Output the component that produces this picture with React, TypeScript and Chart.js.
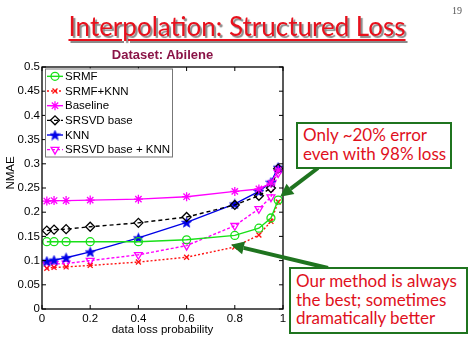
import React, { useEffect, useRef } from 'react';
import { Chart, registerables } from 'chart.js';
import { drawPoint } from 'chart.js/helpers';

Chart.register(...registerables);

const slideTitle = 'Interpolation: Structured Loss';
const pageNumber = '19';
const chartTitle = 'Dataset: Abilene';
const xTitle = 'data loss probability';
const yTitle = 'NMAE';
const note1 = ['Only ~20% error', 'even with 98% loss'];
const note2 = ['Our method is always', 'the best; sometimes', 'dramatically better'];

const lossProb = [0.02, 0.05, 0.1, 0.2, 0.4, 0.6, 0.8, 0.9, 0.95, 0.98];
const xTicks = [0, 0.2, 0.4, 0.6, 0.8, 1];
const yTicks = [0, 0.05, 0.1, 0.15, 0.2, 0.25, 0.3, 0.35, 0.4, 0.45, 0.5];

const srmf = [0.139, 0.139, 0.139, 0.139, 0.139, 0.143, 0.152, 0.167, 0.188, 0.225];
const srmfKnn = [0.084, 0.086, 0.087, 0.09, 0.097, 0.107, 0.128, 0.153, 0.181, 0.221];
const baseline = [0.223, 0.224, 0.224, 0.225, 0.227, 0.232, 0.243, 0.248, 0.26, 0.287];
const srsvdBase = [0.162, 0.164, 0.165, 0.17, 0.178, 0.19, 0.215, 0.234, 0.25, 0.29];
const knn = [0.099, 0.101, 0.106, 0.118, 0.147, 0.179, 0.217, 0.243, 0.262, 0.293];
const srsvdKnn = [0.092, 0.093, 0.094, 0.1, 0.112, 0.131, 0.172, 0.207, 0.231, 0.281];

const seriesNames = ['SRMF', 'SRMF+KNN', 'Baseline', 'SRSVD base', 'KNN', 'SRSVD base + KNN'];

// where the annotation arrows point, in data units
const arrow1Tip = { x: 0.988, y: 0.232 };
const arrow2Tip = { x: 0.784, y: 0.1325 };

function makePentagram(color: string) {
  const c = document.createElement('canvas');
  c.width = 11;
  c.height = 11;
  const g = c.getContext('2d')!;
  g.beginPath();
  for (let i = 0; i < 10; i++) {
    const r = i % 2 === 0 ? 5.2 : 2.2;
    const a = -Math.PI / 2 + (i * Math.PI) / 5;
    const px = 5.5 + r * Math.cos(a);
    const py = 6 + r * Math.sin(a);
    if (i === 0) g.moveTo(px, py);
    else g.lineTo(px, py);
  }
  g.closePath();
  g.fillStyle = color;
  g.fill();
  g.strokeStyle = color;
  g.lineWidth = 0.8;
  g.stroke();
  return c;
}

const FONT = '"Liberation Sans", Arial, sans-serif';

export default function App() {
  const ref = useRef<HTMLCanvasElement>(null);

  useEffect(() => {
    const canvas = ref.current!;
    const star5 = makePentagram('#0000e6');
    const toPts = (ys: number[]) => ys.map((y, i) => ({ x: lossProb[i], y }));

    const defs = [
      { label: seriesNames[0], data: srmf, color: '#18e018', dash: [], style: 'circle', r: 4, rot: 0 },
      { label: seriesNames[1], data: srmfKnn, color: '#ff1010', dash: [2, 2], style: 'crossRot', r: 3.5, rot: 0 },
      { label: seriesNames[2], data: baseline, color: '#ff00ff', dash: [], style: 'star', r: 4.5, rot: 0 },
      { label: seriesNames[3], data: srsvdBase, color: '#000000', dash: [4, 3], style: 'rectRot', r: 4.5, rot: 0 },
      { label: seriesNames[4], data: knn, color: '#0000e6', dash: [], style: star5 as any, r: 5, rot: 0 },
      { label: seriesNames[5], data: srsvdKnn, color: '#ff00ff', dash: [3, 2], style: 'triangle', r: 4.5, rot: 180 },
    ];

    const framePlugin = {
      id: 'frame',
      afterDraw(chart: any) {
        const { ctx, chartArea: a, scales } = chart;
        const xs = scales.x;
        const ys = scales.y;
        ctx.save();
        // axis box
        ctx.strokeStyle = '#000';
        ctx.lineWidth = 1.3;
        ctx.setLineDash([]);
        ctx.strokeRect(a.left, a.top, a.right - a.left, a.bottom - a.top);
        ctx.lineWidth = 1;
        ctx.beginPath();
        xTicks.forEach((v) => {
          const px = xs.getPixelForValue(v);
          ctx.moveTo(px, a.bottom);
          ctx.lineTo(px, a.bottom - 4);
          ctx.moveTo(px, a.top);
          ctx.lineTo(px, a.top + 4);
        });
        yTicks.forEach((v) => {
          const py = ys.getPixelForValue(v);
          ctx.moveTo(a.left, py);
          ctx.lineTo(a.left + 4, py);
          ctx.moveTo(a.right, py);
          ctx.lineTo(a.right - 4, py);
        });
        ctx.stroke();

        // axis titles
        ctx.fillStyle = '#000';
        ctx.font = '11.5px ' + FONT;
        ctx.textAlign = 'center';
        ctx.textBaseline = 'middle';
        ctx.fillText(xTitle, (a.left + a.right) / 2, a.bottom + 21);
        ctx.save();
        ctx.translate(11, a.top + 106);
        ctx.rotate(-Math.PI / 2);
        ctx.fillText(yTitle, 0, 0);
        ctx.restore();

        // legend
        const lx = a.left + 3;
        const ly = a.top + 1.5;
        const lw = 127;
        const lh = 88;
        ctx.fillStyle = '#fff';
        ctx.fillRect(lx, ly, lw, lh);
        ctx.strokeStyle = '#777';
        ctx.lineWidth = 1;
        ctx.strokeRect(lx + 0.5, ly + 0.5, lw, lh);
        const rowH = lh / defs.length;
        defs.forEach((d, i) => {
          const cy = ly + rowH / 2 + i * rowH + 0.5;
          ctx.strokeStyle = d.color;
          ctx.lineWidth = 1.4;
          ctx.setLineDash(d.dash);
          ctx.beginPath();
          ctx.moveTo(lx + 2, cy);
          ctx.lineTo(lx + 18, cy);
          ctx.stroke();
          ctx.setLineDash([]);
          ctx.fillStyle = 'rgba(0,0,0,0)';
          ctx.strokeStyle = d.color;
          ctx.lineWidth = 1.3;
          drawPoint(ctx, { pointStyle: d.style, radius: d.r, rotation: d.rot, borderWidth: 1.3 } as any, lx + 10, cy);
          ctx.fillStyle = '#000';
          ctx.font = '11.5px ' + FONT;
          ctx.textAlign = 'left';
          ctx.textBaseline = 'middle';
          ctx.fillText(d.label, lx + 20, cy + 0.5);
        });

        // arrows
        const arrow = (x1: number, y1: number, x2: number, y2: number) => {
          const ang = Math.atan2(y2 - y1, x2 - x1);
          const hl = 13;
          const hw = 6.5;
          const bx = x2 - hl * Math.cos(ang);
          const by = y2 - hl * Math.sin(ang);
          ctx.strokeStyle = '#1f741f';
          ctx.fillStyle = '#1f741f';
          ctx.lineWidth = 4;
          ctx.setLineDash([]);
          ctx.beginPath();
          ctx.moveTo(x1, y1);
          ctx.lineTo(bx, by);
          ctx.stroke();
          ctx.beginPath();
          ctx.moveTo(x2, y2);
          ctx.lineTo(bx + hw * Math.sin(ang), by - hw * Math.cos(ang));
          ctx.lineTo(bx - hw * Math.sin(ang), by + hw * Math.cos(ang));
          ctx.closePath();
          ctx.fill();
        };
        arrow(318, 168, xs.getPixelForValue(arrow1Tip.x), ys.getPixelForValue(arrow1Tip.y));
        arrow(328, 268, xs.getPixelForValue(arrow2Tip.x), ys.getPixelForValue(arrow2Tip.y));
        ctx.restore();
      },
    };

    const chart = new Chart(canvas, {
      type: 'line',
      data: {
        datasets: defs.map((d) => ({
          label: d.label,
          data: toPts(d.data),
          borderColor: d.color,
          backgroundColor: d.color,
          borderWidth: 1.4,
          borderDash: d.dash,
          pointStyle: d.style,
          pointRadius: d.r,
          pointRotation: d.rot,
          pointBorderColor: d.color,
          pointBackgroundColor: d.style === star5 ? d.color : 'rgba(0,0,0,0)',
          pointBorderWidth: 1.3,
          tension: 0,
          fill: false,
        })),
      },
      options: {
        animation: false,
        responsive: false,
        maintainAspectRatio: false,
        layout: { padding: { top: 67, right: 191, bottom: 0, left: 0 } },
        plugins: { legend: { display: false }, tooltip: { enabled: false }, title: { display: false } },
        scales: {
          x: {
            type: 'linear',
            min: 0,
            max: 1,
            afterFit: (axis: any) => {
              axis.height = 46;
            },
            afterBuildTicks: (axis: any) => {
              axis.ticks = xTicks.map((v) => ({ value: v }));
            },
            grid: { display: false, drawTicks: false },
            border: { display: false },
            ticks: {
              padding: 3,
              color: '#000',
              font: { family: FONT, size: 11.5 },
              maxRotation: 0,
              callback: (v: any) => String(Number(Number(v).toFixed(2))),
            },
          },
          y: {
            type: 'linear',
            min: 0,
            max: 0.5,
            afterFit: (axis: any) => {
              axis.width = 42;
            },
            afterBuildTicks: (axis: any) => {
              axis.ticks = yTicks.map((v) => ({ value: v }));
            },
            grid: { display: false, drawTicks: false },
            border: { display: false },
            ticks: {
              padding: 2,
              color: '#000',
              font: { family: FONT, size: 11.5 },
              callback: (v: any) => String(Number(Number(v).toFixed(2))),
            },
          },
        },
      },
      plugins: [framePlugin],
    } as any);
    return () => chart.destroy();
  }, []);

  const noteText: React.CSSProperties = {
    fontFamily: 'Lato, "Open Sans", sans-serif',
    fontSize: 17,
    color: '#e0101c',
    lineHeight: '18.5px',
    whiteSpace: 'nowrap',
  };

  return (
    <div style={{ position: 'absolute', left: 0, top: 0, width: 474, height: 355, background: '#fff', overflow: 'hidden' }}>
      <canvas ref={ref} width={474} height={355} style={{ position: 'absolute', left: 0, top: 0, width: 474, height: 355 }} />
      <div
        style={{
          position: 'absolute',
          left: 0,
          top: 10,
          width: 474,
          textAlign: 'center',
          fontFamily: 'Lato, sans-serif',
          fontSize: 26,
          lineHeight: '32px',
          color: '#e8101c',
          textDecoration: 'underline',
          textDecorationThickness: 2,
          textUnderlineOffset: 3,
          textShadow: '2px 2px 1px #8a8a8a',
        }}
      >
        {slideTitle}
      </div>
      <div style={{ position: 'absolute', left: 452, top: 5, fontFamily: '"Liberation Serif", serif', fontSize: 10, color: '#555' }}>
        {pageNumber}
      </div>
      <div
        style={{
          position: 'absolute',
          left: 42,
          width: 241,
          top: 47,
          textAlign: 'center',
          fontFamily: FONT,
          fontWeight: 'bold',
          fontSize: 13,
          lineHeight: '16px',
          color: '#8a1447',
        }}
      >
        {chartTitle}
      </div>
      <div
        style={{
          position: 'absolute',
          left: 296,
          top: 122,
          width: 147,
          height: 41,
          border: '2px solid #1f741f',
          background: '#fff',
          boxSizing: 'content-box',
          padding: '2px 0 0 5px',
        }}
      >
        {note1.map((t, i) => (
          <div key={i} style={noteText}>
            {t}
          </div>
        ))}
      </div>
      <div
        style={{
          position: 'absolute',
          left: 289,
          top: 267,
          width: 170,
          height: 60,
          border: '2px solid #1f741f',
          background: '#fff',
          padding: '3px 0 0 5px',
        }}
      >
        {note2.map((t, i) => (
          <div key={i} style={noteText}>
            {t}
          </div>
        ))}
      </div>
    </div>
  );
}
